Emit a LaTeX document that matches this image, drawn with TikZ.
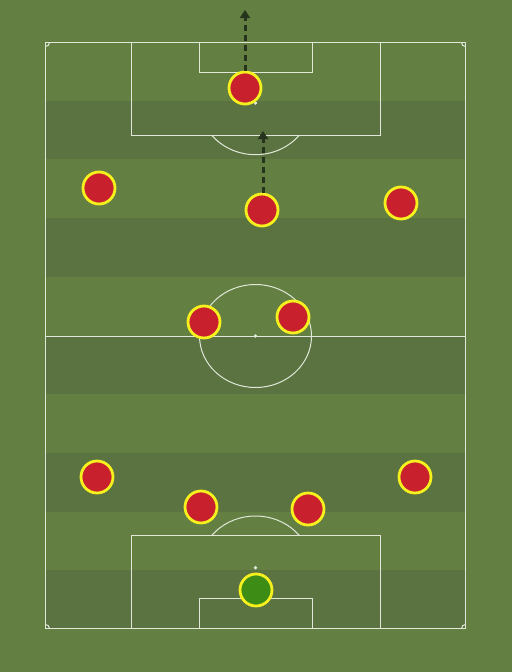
\documentclass[tikz,border=0pt]{standalone}
\usepackage{tikz}
\usetikzlibrary{arrows.meta}
\definecolor{grasslight}{RGB}{99, 128, 66}
\definecolor{grassdark}{RGB}{90, 115, 64}
\definecolor{chalk}{RGB}{225, 232, 218}
\definecolor{shirtred}{RGB}{200, 33, 45}
\definecolor{shirtgreen}{RGB}{60, 140, 22}
\definecolor{rimyellow}{RGB}{245, 240, 30}
\definecolor{runline}{RGB}{38, 52, 30}

\begin{document}
\begin{tikzpicture}[x=1pt, y=-1pt,
        player/.style={circle, fill=shirtred, draw=rimyellow, line width=2.8pt, minimum size=32pt, inner sep=0pt},
        keeper/.style={player, fill=shirtgreen},
        run/.style={runline, line width=3pt, dash pattern=on 6pt off 4pt, -{Triangle[width=10pt,length=8pt]}},
        pitchline/.style={chalk, line width=1pt}]
            % grass
            \fill[grasslight]                 (0, 0) rectangle (512, 672);
            \foreach \k in {1,3,5,7,9}
                \fill[grassdark]              (45, {42+58.7*\k}) rectangle (466, {42+58.7*(\k+1)});
            % pitch markings
            \draw[pitchline]                  ( 45.5, 42.5) rectangle (465.5, 628.5);
            \draw[pitchline]                  ( 45.5,336.0) -- (465.5,336.0);
            \draw[pitchline]                  (255.5,336.0) ellipse   (56 and 51.5);
            \draw[pitchline]                  (131.5, 42.5) rectangle (380.5,135.0);
            \draw[pitchline]                  (199.5, 42.5) rectangle (312.5, 72.5);
            \draw[pitchline]                  (131.5,628.5) rectangle (380.5,535.5);
            \draw[pitchline]                  (199.5,628.5) rectangle (312.5,598.5);
            \begin{scope}
                \clip                         (0,135) rectangle (512,200);
                \draw[pitchline]              (255.5,103.0) ellipse   (56 and 51.7);
            \end{scope}
            \begin{scope}
                \clip                         (0,470) rectangle (512,535.5);
                \draw[pitchline]              (255.5,567.7) ellipse   (56 and 51.7);
            \end{scope}
            \draw[pitchline]                  ( 49.5, 42.5) arc (0:90:4);
            \draw[pitchline]                  (465.5, 46.5) arc (90:180:4);
            \draw[pitchline]                  (461.5,628.5) arc (180:270:4);
            \draw[pitchline]                  ( 45.5,624.5) arc (270:360:4);
            \foreach \sy in {103, 336, 567.7}
                \fill[chalk]                  (255.5,\sy) circle (1.8);
            % players
            \node[keeper] (gk)  at (256,590) {};
            \node[player] (lb)  at ( 97,477) {};
            \node[player] (rb)  at (415,477) {};
            \node[player] (lcb) at (201,507) {};
            \node[player] (rcb) at (308,509) {};
            \node[player] (lcm) at (204,322) {};
            \node[player] (rcm) at (293,317) {};
            \node[player] (lw)  at ( 99,188) {};
            \node[player] (am)  at (262,210) {};
            \node[player] (rw)  at (401,203) {};
            \node[player] (st)  at (245, 88) {};
            % runs
            \coordinate (stRun) at (245, 10);
            \coordinate (amRun) at (263,131);
            \draw[run] (st.north) -- (stRun);
            \draw[run] (am.north -| amRun) -- (amRun);
\end{tikzpicture}
\end{document}
